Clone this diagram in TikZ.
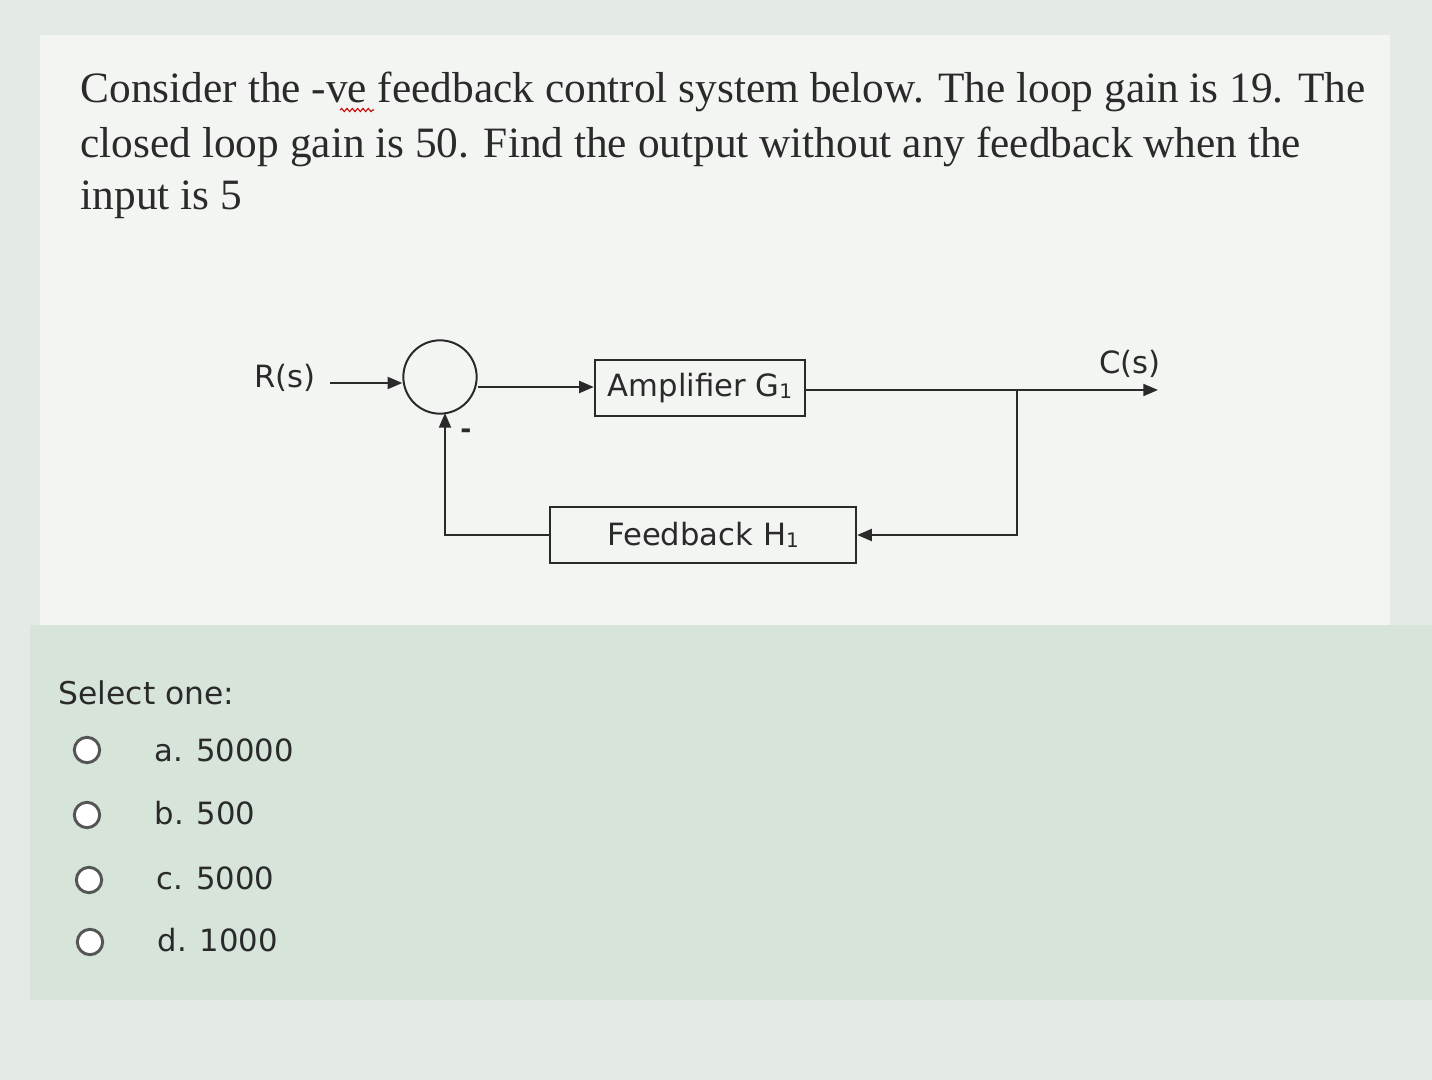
\documentclass[tikz,border=0pt]{standalone}
\usepackage{fontspec}
\setmainfont{Liberation Serif}
\newfontfamily\dv{DejaVu Sans}
\usetikzlibrary{arrows.meta,decorations.pathmorphing}
\definecolor{bgall}{HTML}{E4EAE6}
\definecolor{bgtop}{HTML}{F3F5F3}
\definecolor{bgbot}{HTML}{D6E4DA}
\definecolor{ink}{HTML}{2A2A2A}
\tikzset{
  blk/.style={draw=ink,line width=1.3pt,minimum width=#1,minimum height=42pt,inner sep=0pt,font=\dv\fontsize{23}{26}\selectfont,text=ink},
  con/.style={draw=ink,line width=1.5pt},
  arr/.style={con,-{Triangle[length=11,width=9]}},
  opt/.style={font=\dv\fontsize{23}{26}\selectfont,text=ink,anchor=west},
  radio/.style={draw=ink!80,line width=2.2pt,fill=white,circle,minimum size=19pt,inner sep=0pt}
}
\begin{document}
\begin{tikzpicture}[x=0.75pt,y=-0.75pt]
\useasboundingbox (0,0) rectangle (1432,1080);
\fill[bgall] (0,0) rectangle (1432,1080);
\fill[bgtop] (40,35) rectangle (1390,625);
\fill[bgbot] (30,625) rectangle (1432,1000);
% question
\node[anchor=west,font=\fontsize{32.5}{40}\selectfont,text=ink] (q1) at (76,92) {Consider the -ve feedback control system below. The loop gain is 19. The};
\node[anchor=west,font=\fontsize{32.5}{40}\selectfont,text=ink] (q2) at (76,147) {closed loop gain is 50. Find the output without any feedback when the};
\node[anchor=west,font=\fontsize{32.5}{40}\selectfont,text=ink] (q3) at (76,200) {input is 5};
\draw[red!80!black,line width=0.8pt,decoration={snake,amplitude=1.2,segment length=4},decorate] (340,110) -- (374,110);
% diagram
\node[font=\dv\fontsize{23}{26}\selectfont,text=ink] (R) at (285,378) {R(s)};
\node[draw=ink,line width=1.5pt,circle,minimum size=55pt,inner sep=0pt] (sum) at (440,377) {};
\node[blk=158pt] (amp) at (700,388) {Amplifier G\raisebox{-0.1ex}{\fontsize{15}{16}\selectfont 1}};
\node[blk=230pt] (fb) at (703,535) {Feedback H\raisebox{-0.1ex}{\fontsize{15}{16}\selectfont 1}};
\node[font=\dv\fontsize{23}{26}\selectfont,text=ink] (C) at (1130,364) {C(s)};
\coordinate (out) at (1158,390);
\coordinate (tap) at (1017,390);
\coordinate (fbl) at (445,535);
\draw[arr] (330,383) -- (sum.west |- 0,383);
\draw[arr] (sum.east |- 0,387) -- (amp.west |- 0,387);
\draw[arr] (amp.east |- 0,390) -- (out);
\draw[arr] (tap) |- (fb.east);
\draw[arr] (fb.west) -- (fbl) -- (445,413);
\node[font=\dv\bfseries\fontsize{20}{22}\selectfont,text=ink] (minus) at (466,434) {-};
% options
\node[anchor=west,font=\dv\fontsize{23.5}{28}\selectfont,text=ink] (sel) at (54,693) {Select one:};
\node[radio] (r1) at (87,750) {}; \node[opt] (o1) at (150,750) {a. 50000};
\node[radio] (r2) at (87,815) {}; \node[opt] (o2) at (150,813) {b. 500};
\node[radio] (r3) at (89,880) {}; \node[opt] (o3) at (152,878) {c. 5000};
\node[radio] (r4) at (90,942) {}; \node[opt] (o4) at (153,940) {d. 1000};
\end{tikzpicture}
\end{document}
